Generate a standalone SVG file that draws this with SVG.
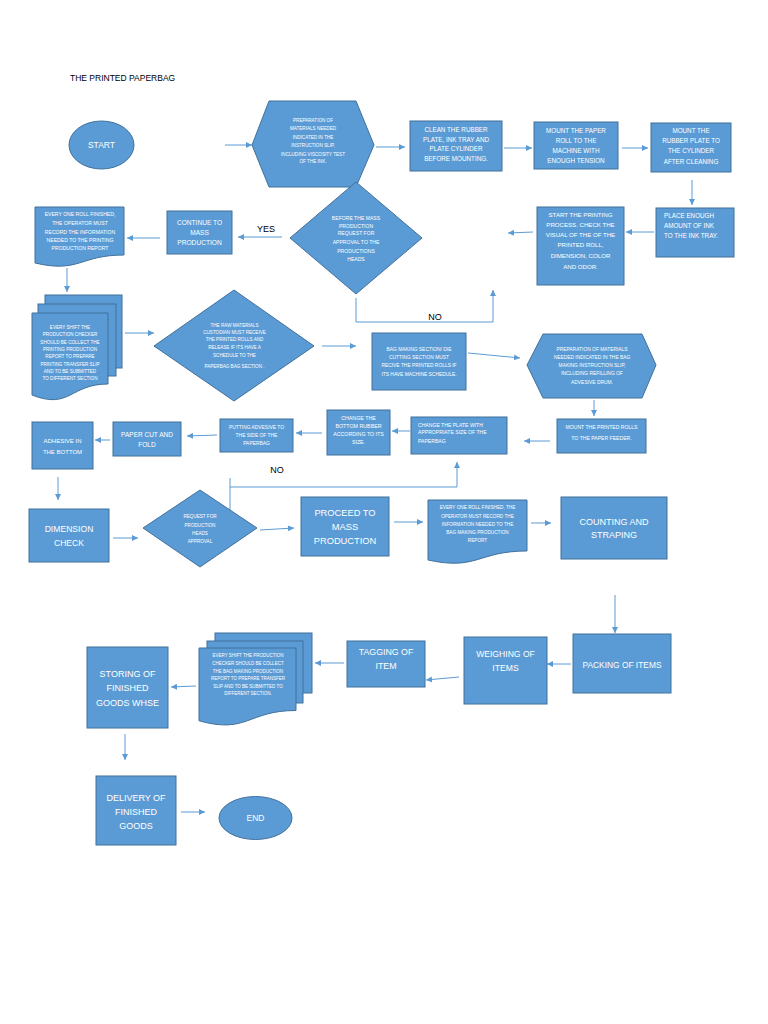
<svg xmlns="http://www.w3.org/2000/svg" width="768" height="1024" viewBox="0 0 768 1024">
<defs>
<style>
.n{fill:#5B9BD5;stroke:#41719C;stroke-width:1}
.t{fill:#FFFFFF;font-family:"Liberation Sans",Arial,sans-serif;text-anchor:middle}
.l{text-anchor:start}
.s4{font-size:4.6px}
.s5{font-size:5.1px}
.s6{font-size:6.3px}
.s9{font-size:9px}
.lbl{fill:#000000;font-family:"Liberation Sans",Arial,sans-serif;font-size:9px;text-anchor:middle}
.c{fill:none;stroke:#5B9BD5;stroke-width:1;marker-end:url(#ah)}
.p{fill:none;stroke:#5B9BD5;stroke-width:1}
</style>
<marker id="ah" viewBox="0 0 6 6" refX="6" refY="3" markerWidth="6" markerHeight="6" markerUnits="userSpaceOnUse" orient="auto">
<path d="M0,0 L6,3 L0,6 z" fill="#5B9BD5"/>
</marker>
</defs>
<rect width="768" height="1024" fill="#FFFFFF"/>
<text x="70" y="81" fill="#000" font-family="Liberation Sans,Arial,sans-serif" font-size="8.5">THE PRINTED PAPERBAG</text>

<g id="connectors">
<line class="c" x1="225" y1="145" x2="252" y2="145"/>
<line class="c" x1="376" y1="147" x2="405" y2="147"/>
<line class="c" x1="504" y1="148" x2="532" y2="148"/>
<line class="c" x1="622" y1="148" x2="648" y2="148"/>
<line class="c" x1="692" y1="180" x2="692" y2="205"/>
<line class="c" x1="654" y1="232" x2="626" y2="232"/>
<line class="c" x1="533" y1="232" x2="508" y2="233"/>
<polyline class="c" points="356,298 356,322 493,322 493,290"/>
<line class="c" x1="282" y1="237" x2="238" y2="237"/>
<line class="c" x1="160" y1="238" x2="127" y2="238"/>
<line class="c" x1="67" y1="268" x2="67" y2="292"/>
<line class="c" x1="125" y1="333" x2="154" y2="333"/>
<line class="c" x1="322" y1="346" x2="356" y2="346"/>
<line class="c" x1="468" y1="353" x2="520" y2="358"/>
<line class="c" x1="594" y1="400" x2="594" y2="416"/>
<line class="c" x1="550" y1="441" x2="524" y2="441"/>
<line class="c" x1="410" y1="431" x2="392" y2="431"/>
<line class="c" x1="322" y1="433" x2="296" y2="433"/>
<line class="c" x1="217" y1="435" x2="187" y2="436"/>
<line class="c" x1="110" y1="440" x2="95" y2="440"/>
<line class="c" x1="58" y1="477" x2="58" y2="500"/>
<line class="p" x1="230" y1="478" x2="230" y2="512"/>
<polyline class="c" points="230,487 457,487 457,462"/>
<line class="c" x1="113" y1="538" x2="138" y2="538"/>
<line class="c" x1="260" y1="530" x2="294" y2="528"/>
<line class="c" x1="394" y1="522" x2="423" y2="522"/>
<line class="c" x1="531" y1="523" x2="551" y2="523"/>
<line class="c" x1="615" y1="595" x2="615" y2="633"/>
<line class="c" x1="571" y1="664" x2="547" y2="664"/>
<line class="c" x1="459" y1="677" x2="426" y2="680"/>
<line class="c" x1="344" y1="663" x2="315" y2="663"/>
<line class="c" x1="196" y1="686" x2="171" y2="687"/>
<line class="c" x1="125" y1="734" x2="125" y2="760"/>
<line class="c" x1="181" y1="812" x2="205" y2="812"/>
</g>

<g id="labels">
<text class="lbl" x="266" y="232">YES</text>
<text class="lbl" x="435" y="320">NO</text>
<text class="lbl" x="277" y="473">NO</text>
</g>

<g id="start">
<ellipse class="n" cx="101.5" cy="145" rx="32.5" ry="24"/>
<text class="t" x="101.5" y="148" font-size="8.5">START</text>
</g>

<g id="prep1">
<polygon class="n" points="252,145 269,101 356,101 374,145 356,187 269,187"/>
<text class="t s4" x="313"><tspan x="313" y="121.6">PREPARATION OF</tspan><tspan x="313" y="130.2">MATERIALS NEEDED</tspan><tspan x="313" y="138.7">INDICATED IN THE</tspan><tspan x="313" y="147.4">INSTRUCTION SLIP,</tspan><tspan x="313" y="155.6">INCLUDING VISCOSITY TEST</tspan><tspan x="313" y="163.4">OF THE INK.</tspan></text>
</g>

<g id="clean">
<rect class="n" x="410" y="121" width="92" height="50"/>
<text class="t s6"><tspan x="456" y="132">CLEAN THE RUBBER</tspan><tspan x="456" y="141.5">PLATE, INK TRAY AND</tspan><tspan x="456" y="151.2">PLATE CYLINDER</tspan><tspan x="456" y="161.2">BEFORE MOUNTING.</tspan></text>
</g>

<g id="mountpaper">
<rect class="n" x="534" y="122" width="84" height="47"/>
<text class="t s6"><tspan x="576" y="133">MOUNT THE PAPER</tspan><tspan x="576" y="142.5">ROLL TO THE</tspan><tspan x="576" y="152.5">MACHINE WITH</tspan><tspan x="576" y="162.5">ENOUGH TENSION</tspan></text>
</g>

<g id="mountrubber">
<rect class="n" x="651" y="123" width="80" height="49"/>
<text class="t s6"><tspan x="691" y="133">MOUNT THE</tspan><tspan x="691" y="143.2">RUBBER PLATE TO</tspan><tspan x="691" y="153.2">THE CYLINDER</tspan><tspan x="691" y="163.5">AFTER CLEANING</tspan></text>
</g>

<g id="placeink">
<rect class="n" x="656" y="208" width="78" height="49"/>
<text class="t s6 l"><tspan x="664" y="218">PLACE ENOUGH</tspan><tspan x="664" y="228">AMOUNT OF INK</tspan><tspan x="664" y="238">TO THE INK TRAY.</tspan></text>
</g>

<g id="startprint">
<rect class="n" x="537" y="207" width="87" height="78"/>
<text class="t" font-size="6.1"><tspan x="580.5" y="217.2">START THE PRINTING</tspan><tspan x="580.5" y="227.2">PROCESS. CHECK THE</tspan><tspan x="580.5" y="237.2">VISUAL OF THE OF THE</tspan><tspan x="580.5" y="247.2">PRINTED ROLL,</tspan><tspan x="580.5" y="257.9">DIMENSION, COLOR</tspan><tspan x="580.5" y="268.9">AND ODOR.</tspan></text>
</g>

<g id="decision1">
<polygon class="n" points="356,182 422,238 356,294 290,238"/>
<text class="t s5"><tspan x="356" y="220">BEFORE THE MASS</tspan><tspan x="356" y="227.5">PRODUCTION</tspan><tspan x="356" y="235">REQUEST FOR</tspan><tspan x="356" y="244">APPROVAL TO THE</tspan><tspan x="356" y="252.7">PRODUCTIONS</tspan><tspan x="356" y="261">HEADS</tspan></text>
</g>

<g id="continue">
<rect class="n" x="167" y="211" width="65" height="43"/>
<text class="t" font-size="6.6"><tspan x="199.5" y="225.3">CONTINUE TO</tspan><tspan x="199.5" y="235.3">MASS</tspan><tspan x="199.5" y="245.3">PRODUCTION</tspan></text>
</g>

<g id="doc1">
<path class="n" d="M35,207 H124 V255 C79.5,255 79.5,273.4 35,263 Z"/>
<text class="t s5"><tspan x="80" y="216">EVERY ONE ROLL FINISHED,</tspan><tspan x="80" y="224.5">THE OPERATOR MUST</tspan><tspan x="80" y="233.5">RECORD THE INFORMATION</tspan><tspan x="80" y="241.8">NEEDED TO THE PRINTING</tspan><tspan x="80" y="250">PRODUCTION REPORT</tspan></text>
</g>

<g id="multidoc1">
<rect class="n" x="45" y="295" width="77" height="73"/>
<rect class="n" x="38" y="304" width="78" height="72"/>
<path class="n" d="M32,313 H108 V384 C70,384 70,410 32,395 Z"/>
<text class="t s4"><tspan x="70" y="329">EVERY SHIFT THE</tspan><tspan x="70" y="336.3">PRODUCTION CHECKER</tspan><tspan x="70" y="343.6">SHOULD BE COLLECT THE</tspan><tspan x="70" y="350.9">PRINTING PRODUCTION</tspan><tspan x="70" y="358.2">REPORT TO PREPARE</tspan><tspan x="70" y="365.5">PRINTING TRANSFER SLIP</tspan><tspan x="70" y="372.8">AND TO BE SUBMITTED</tspan><tspan x="70" y="380.1">TO DIFFERENT SECTION</tspan></text>
</g>

<g id="decision2">
<polygon class="n" points="234,290 314,346 234,401 154,346"/>
<text class="t s4"><tspan x="234.5" y="326.7">THE RAW MATERIALS</tspan><tspan x="234.5" y="334.3">CUSTODIAN MUST RECEIVE</tspan><tspan x="234.5" y="341">THE PRINTED ROLLS AND</tspan><tspan x="234.5" y="349">RELEASE IF ITS HAVE A</tspan><tspan x="234.5" y="356.7">SCHEDULE TO THE</tspan><tspan x="234.5" y="367.7">PAPERBAG BAG SECTION .</tspan></text>
</g>

<g id="bagmaking">
<rect class="n" x="372" y="333" width="94" height="57"/>
<text class="t" font-size="4.9"><tspan x="419" y="351">BAG MAKING SECTION/ DIE</tspan><tspan x="419" y="359">CUTTING SECTION MUST</tspan><tspan x="419" y="367.4">RECIVE THE PRINTED ROLLS IF</tspan><tspan x="419" y="375.7">ITS HAVE MACHINE SCHEDULE.</tspan></text>
</g>

<g id="prep2">
<polygon class="n" points="527,365 543,334 642,334 656,365 642,398 543,398"/>
<text class="t" font-size="4.9"><tspan x="592" y="351">PREPARATION OF MATERIALS</tspan><tspan x="592" y="359.4">NEEDED INDICATED IN THE BAG</tspan><tspan x="592" y="366.7">MAKING INSTRUCTION SLIP,</tspan><tspan x="592" y="375">INCLUDING REFILLING OF</tspan><tspan x="592" y="384">ADVESIVE DRUM.</tspan></text>
</g>

<g id="mountrolls">
<rect class="n" x="557" y="419" width="89" height="34"/>
<text class="t s5"><tspan x="601.5" y="429">MOUNT THE PRINTED ROLLS</tspan><tspan x="601.5" y="439.5">TO THE PAPER FEEDER.</tspan></text>
</g>

<g id="changeplate">
<rect class="n" x="411" y="417" width="96" height="37"/>
<text class="t s5 l"><tspan x="418" y="426.8">CHANGE THE PLATE WITH</tspan><tspan x="418" y="434.1">APPROPRIATE SIZE OF THE</tspan><tspan x="418" y="442.5">PAPERBAG</tspan></text>
</g>

<g id="changerubber">
<rect class="n" x="327" y="410" width="63" height="45"/>
<text class="t" font-size="5.3"><tspan x="358.5" y="420.2">CHANGE THE</tspan><tspan x="358.5" y="427.9">BOTTOM RUBBER</tspan><tspan x="358.5" y="435.9">ACCORDING TO ITS</tspan><tspan x="358.5" y="444.2">SIZE.</tspan></text>
</g>

<g id="puttingadhesive">
<rect class="n" x="220" y="419" width="73" height="33"/>
<text class="t" font-size="4.9"><tspan x="256.5" y="429">PUTTING ADVESIVE TO</tspan><tspan x="256.5" y="436.7">THE SIDE OF THE</tspan><tspan x="256.5" y="445">PAPERBAG</tspan></text>
</g>

<g id="papercut">
<rect class="n" x="113" y="422" width="68" height="34"/>
<text class="t" font-size="6.5"><tspan x="147" y="436.6">PAPER CUT AND</tspan><tspan x="147" y="446.6">FOLD</tspan></text>
</g>

<g id="adhesivebottom">
<rect class="n" x="32" y="422" width="61" height="47"/>
<text class="t" font-size="6"><tspan x="62.5" y="442.8">ADHESIVE IN</tspan><tspan x="62.5" y="453.8">THE BOTTOM</tspan></text>
</g>

<g id="dimension">
<rect class="n" x="29" y="509" width="80" height="53"/>
<text class="t" font-size="8.6"><tspan x="69" y="532">DIMENSION</tspan><tspan x="69" y="546">CHECK</tspan></text>
</g>

<g id="decision3">
<polygon class="n" points="200,490 257,528 200,567 143,528"/>
<text class="t s4"><tspan x="200" y="518.3">REQUEST FOR</tspan><tspan x="200" y="526.6">PRODUCTION</tspan><tspan x="200" y="535">HEADS</tspan><tspan x="200" y="542.6">APPROVAL</tspan></text>
</g>

<g id="proceed">
<rect class="n" x="301" y="497" width="88" height="59"/>
<text class="t" font-size="9.3"><tspan x="345" y="516.3">PROCEED TO</tspan><tspan x="345" y="530.3">MASS</tspan><tspan x="345" y="544.3">PRODUCTION</tspan></text>
</g>

<g id="doc2">
<path class="n" d="M428,500 H527 V551 C477.5,551 477.5,570.8 428,560 Z"/>
<text class="t" font-size="4.7"><tspan x="477.5" y="509.3">EVERY ONE ROLL FINISHED, THE</tspan><tspan x="477.5" y="517.6">OPERATOR MUST RECORD THE</tspan><tspan x="477.5" y="526">INFORMATION NEEDED TO THE</tspan><tspan x="477.5" y="534">BAG MAKING PRODUCTION</tspan><tspan x="477.5" y="542.4">REPORT</tspan></text>
</g>

<g id="counting">
<rect class="n" x="561" y="497" width="106" height="62"/>
<text class="t s9"><tspan x="614" y="524.9">COUNTING AND</tspan><tspan x="614" y="538.2">STRAPING</tspan></text>
</g>

<g id="packing">
<rect class="n" x="573" y="634" width="98" height="59"/>
<text class="t" font-size="8.4" x="622" y="668">PACKING OF ITEMS</text>
</g>

<g id="weighing">
<rect class="n" x="464" y="637" width="83" height="67"/>
<text class="t" font-size="8.6"><tspan x="505.5" y="657">WEIGHING OF</tspan><tspan x="505.5" y="671">ITEMS</tspan></text>
</g>

<g id="tagging">
<rect class="n" x="347" y="641" width="78" height="46"/>
<text class="t" font-size="8.8"><tspan x="386" y="655">TAGGING OF</tspan><tspan x="386" y="669">ITEM</tspan></text>
</g>

<g id="multidoc2">
<rect class="n" x="215" y="633" width="97" height="60"/>
<rect class="n" x="207" y="641" width="96" height="62"/>
<path class="n" d="M199,648 H296 V710.5 C247.5,710.5 247.5,734.3 199,720.8 Z"/>
<text class="t" font-size="4.5"><tspan x="248" y="656.6">EVERY SHIFT THE PRODUCTION</tspan><tspan x="248" y="664.9">CHECKER SHOULD BE COLLECT</tspan><tspan x="248" y="672.6">THE BAG MAKING PRODUCTION</tspan><tspan x="248" y="680">REPORT TO PREPARE TRANSFER</tspan><tspan x="248" y="687.6">SLIP AND TO BE SUBMITTED TO</tspan><tspan x="248" y="695">DIFFERENT SECTION.</tspan></text>
</g>

<g id="storing">
<rect class="n" x="87" y="647" width="81" height="81"/>
<text class="t s9"><tspan x="127.5" y="677.2">STORING OF</tspan><tspan x="127.5" y="691">FINISHED</tspan><tspan x="127.5" y="705.5">GOODS WHSE</tspan></text>
</g>

<g id="delivery">
<rect class="n" x="96" y="776" width="80" height="69"/>
<text class="t s9"><tspan x="136" y="800.5">DELIVERY OF</tspan><tspan x="136" y="815">FINISHED</tspan><tspan x="136" y="829">GOODS</tspan></text>
</g>

<g id="end">
<ellipse class="n" cx="255.5" cy="818" rx="36.5" ry="21.5"/>
<text class="t" font-size="8.5" x="255.5" y="821">END</text>
</g>
</svg>
